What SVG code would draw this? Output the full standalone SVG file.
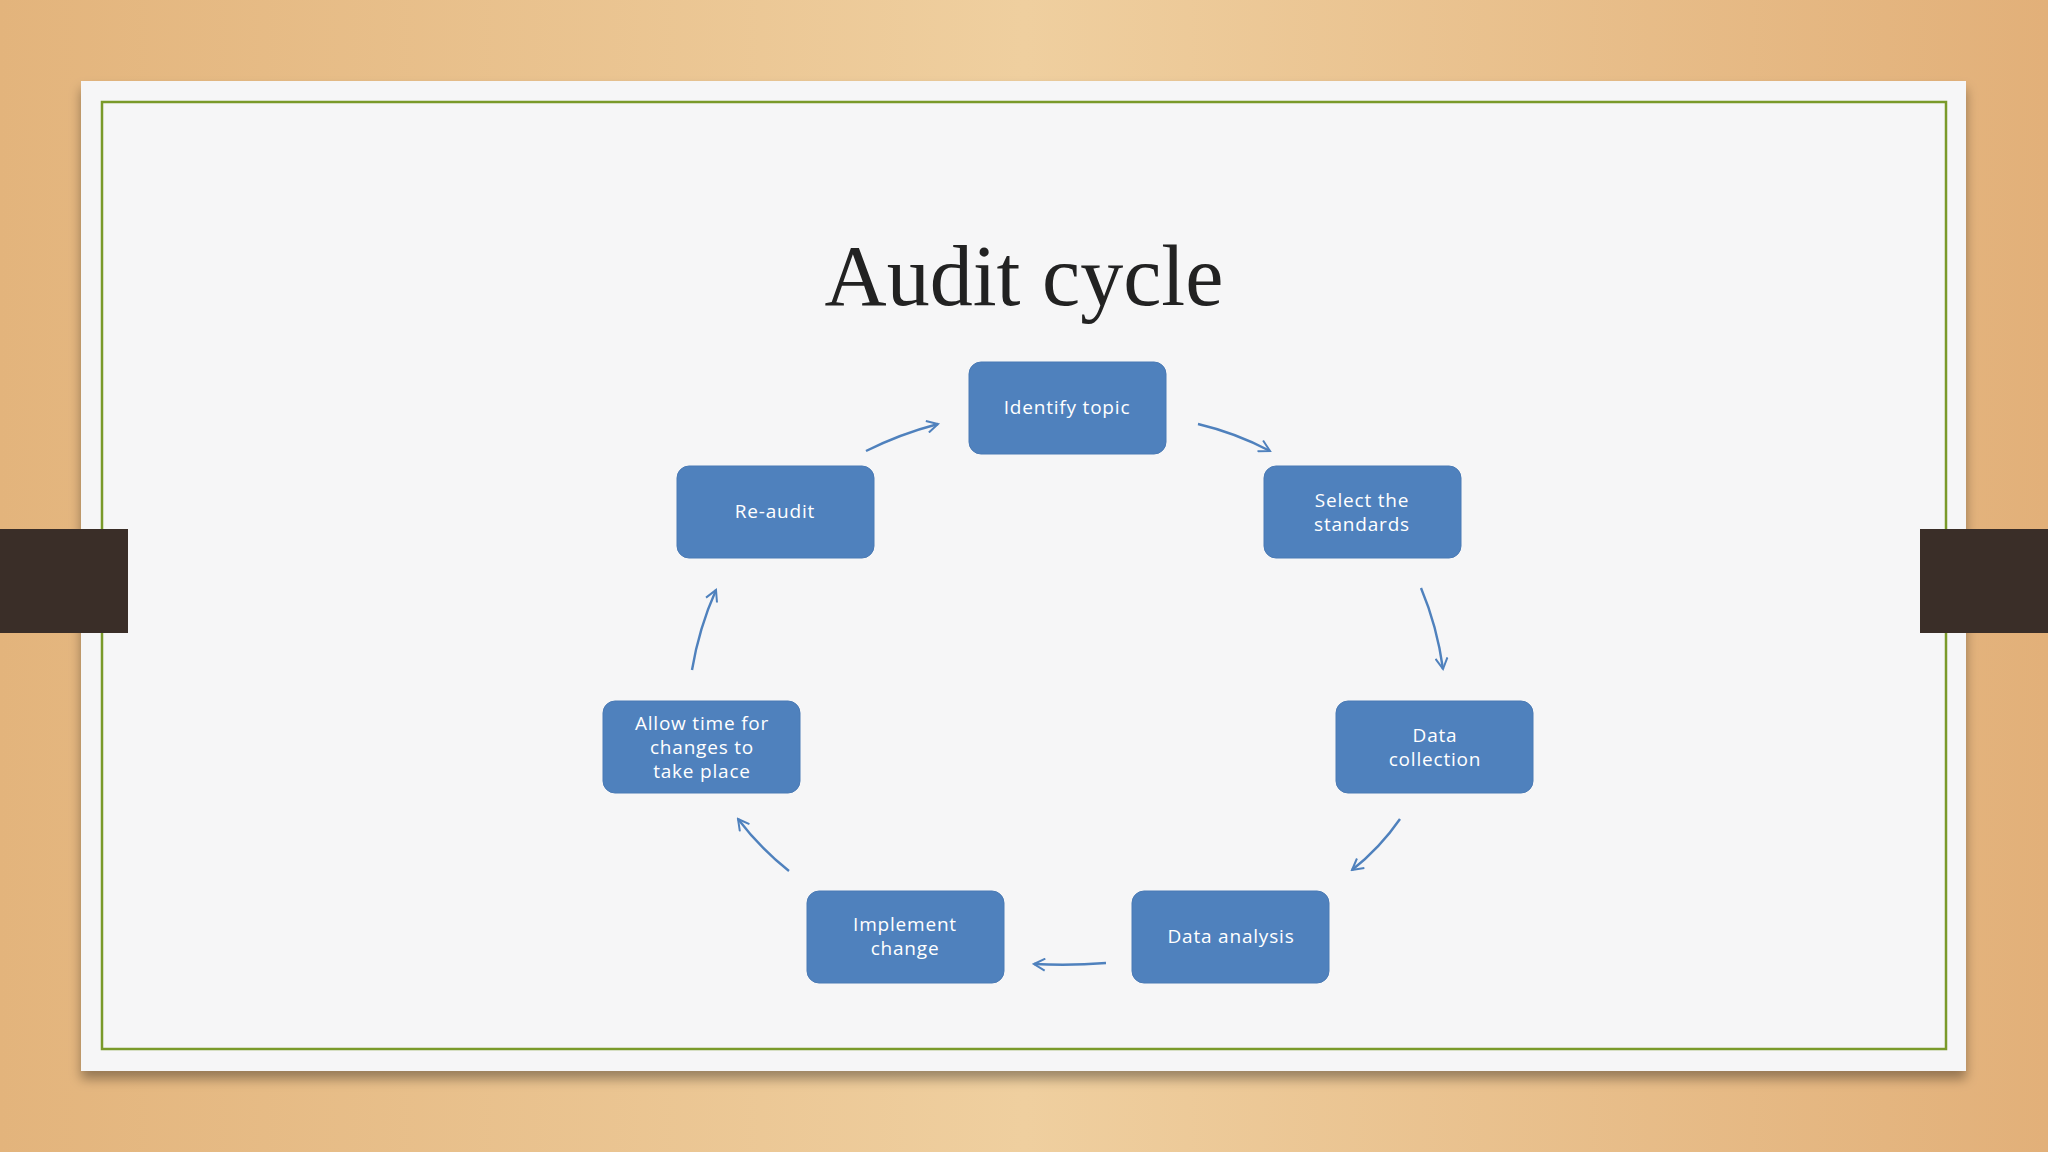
<svg xmlns="http://www.w3.org/2000/svg" width="2048" height="1152" viewBox="0 0 2048 1152">
<defs>
<linearGradient id="wood" x1="0" y1="0" x2="1" y2="0">
<stop offset="0" stop-color="#e3b47c"/><stop offset="0.5" stop-color="#efcf9f"/><stop offset="1" stop-color="#e2b079"/>
</linearGradient>
<marker id="ah" viewBox="0 0 14 14" refX="12" refY="7" markerWidth="14" markerHeight="14" markerUnits="userSpaceOnUse" orient="auto">
<path d="M1,1 L12,7 L1,13" fill="none" stroke="#4f81bd" stroke-width="2"/>
</marker>
<filter id="sh" x="-5%" y="-5%" width="110%" height="115%"><feDropShadow dx="0" dy="8" stdDeviation="6" flood-opacity="0.35"/></filter>
</defs>
<style>
.box{fill:#4f81bd;stroke:#4a7ab5;stroke-width:1}
.lbl{font-family:"Open Sans","Liberation Sans",sans-serif;font-size:19px;fill:#fff;text-anchor:middle;letter-spacing:0.8px}
.conn{fill:none;stroke:#4f81bd;stroke-width:2.4;marker-end:url(#ah)}
</style>
<rect width="2048" height="1152" fill="url(#wood)"/>
<rect x="81" y="81" width="1885" height="990" fill="#f6f6f7" filter="url(#sh)"/>
<rect x="102" y="102" width="1844" height="947" fill="none" stroke="#7a9a2a" stroke-width="2.5"/>
<rect x="0" y="529" width="128" height="104" fill="#3a2e28"/>
<rect x="1920" y="529" width="128" height="104" fill="#3a2e28"/>
<text x="1024" y="305" font-family="Liberation Serif,serif" font-size="86" fill="#222" text-anchor="middle">Audit cycle</text>
<g id="n1"><rect class="box" x="969" y="362" width="197" height="92" rx="12"/><text class="lbl" x="1067" y="414">Identify topic</text></g>
<g id="n2"><rect class="box" x="1264" y="466" width="197" height="92" rx="12"/><text class="lbl" x="1362" y="507">Select the</text><text class="lbl" x="1362" y="531">standards</text></g>
<g id="n3"><rect class="box" x="1336" y="701" width="197" height="92" rx="12"/><text class="lbl" x="1435" y="742">Data</text><text class="lbl" x="1435" y="766">collection</text></g>
<g id="n4"><rect class="box" x="1132" y="891" width="197" height="92" rx="12"/><text class="lbl" x="1231" y="943">Data analysis</text></g>
<g id="n5"><rect class="box" x="807" y="891" width="197" height="92" rx="12"/><text class="lbl" x="905" y="931">Implement</text><text class="lbl" x="905" y="955">change</text></g>
<g id="n6"><rect class="box" x="603" y="701" width="197" height="92" rx="12"/><text class="lbl" x="702" y="730">Allow time for</text><text class="lbl" x="702" y="754">changes to</text><text class="lbl" x="702" y="778">take place</text></g>
<g id="n7"><rect class="box" x="677" y="466" width="197" height="92" rx="12"/><text class="lbl" x="775" y="518">Re-audit</text></g>
<g id="connectors">
<path class="conn" d="M866,451 Q900,434 938,424"/>
<path class="conn" d="M1198,424 Q1236,433 1270,451"/>
<path class="conn" d="M1421,588 Q1437,626 1443,669"/>
<path class="conn" d="M1400,819 Q1380,848 1352,870"/>
<path class="conn" d="M1106,963 Q1070,966 1034,964"/>
<path class="conn" d="M789,871 Q760,848 738,819"/>
<path class="conn" d="M692,670 Q699,628 716,590"/>
</g>
</svg>
